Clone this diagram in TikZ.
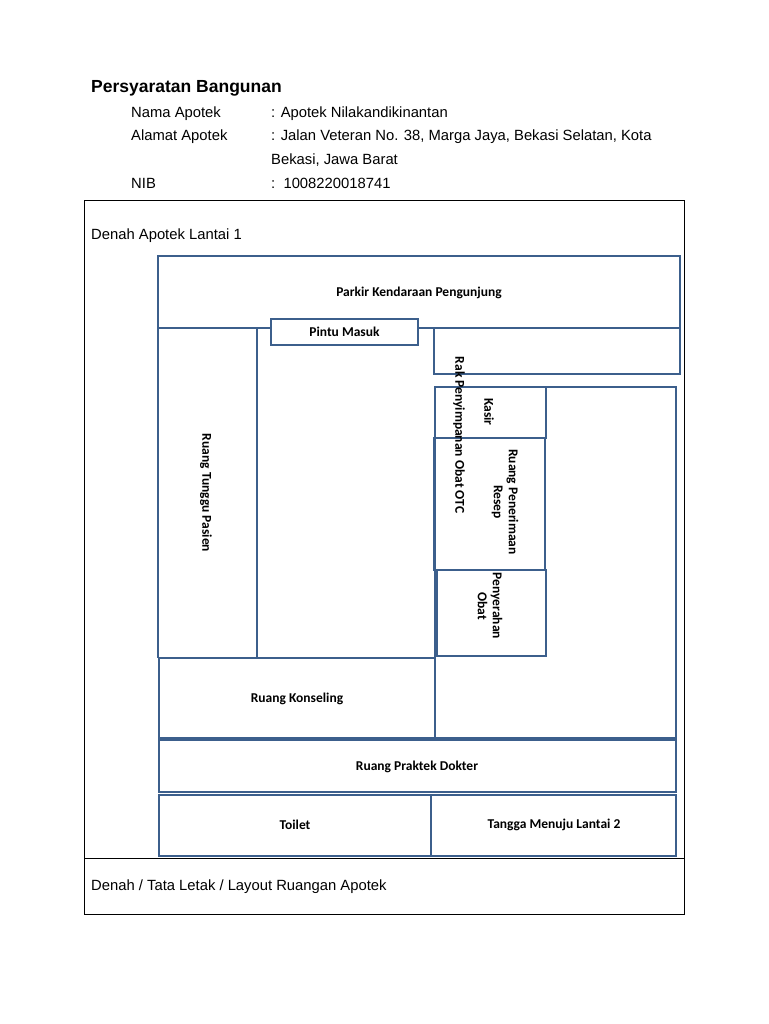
\documentclass[tikz,border=0pt]{standalone}
\usepackage{fontspec}
\setmainfont{Liberation Sans}
\newfontfamily\lab{Carlito}
\begin{document}
\begin{tikzpicture}[x=1pt,y=-1pt,
  wall/.style={draw=wallc,line width=1.6pt},
  lbl/.style={font=\lab\bfseries\fontsize{13.5}{15}\selectfont,align=center,text=black},
  hd/.style={font=\fontsize{14.8}{17}\selectfont,anchor=west,inner sep=0}]
\definecolor{wallc}{HTML}{3C5F8C}
\useasboundingbox[fill=white] (0,0) rectangle (768,1024);
\node[hd,font=\bfseries\fontsize{17.5}{20}\selectfont] (t) at (91,88) {Persyaratan Bangunan};
\node[hd] (l1) at (131,114) {Nama Apotek};
\node[hd] (v1) at (271,114) {: Apotek Nilakandikinantan};
\node[hd] (l2) at (131,137) {Alamat Apotek};
\node[hd] (v2) at (271,137) {: Jalan Veteran No. 38, Marga Jaya, Bekasi Selatan, Kota};
\node[hd] (v2b) at (271,160) {Bekasi, Jawa Barat};
\node[hd] (l3) at (131,183) {NIB};
\node[hd] (v3) at (271,183) {:\ \ 1008220018741};
\draw[black,line width=0.6pt] (84,200) rectangle (684,914);
\draw[black,line width=0.6pt] (84,858) -- (684,858);
\node[hd] (d1) at (91,236) {Denah Apotek Lantai 1};
\node[hd] (d2) at (91,887) {Denah / Tata Letak / Layout Ruangan Apotek};
% walls
\draw[wall] (158,256) rectangle (680,328);
\draw[wall] (158,328) -- (158,658);
\draw[wall] (257,328) -- (257,658);
\draw[wall] (434,328) -- (434,374) -- (680,374) -- (680,328);
\draw[wall] (435,387) rectangle (676,738);
\draw[wall] (435,387) rectangle (546,438);
\draw[wall] (434,438) rectangle (545,570);
\draw[wall] (437,570) rectangle (546,656);
\draw[wall] (159,658) rectangle (435,738);
\draw[wall] (159,740) rectangle (676,792);
\draw[wall] (159,795) rectangle (431,856);
\draw[wall] (431,795) rectangle (676,856);
\node[draw=wallc,line width=2pt,fill=white,minimum width=147pt,minimum height=26pt,lbl] (pm) at (344.5,332) {Pintu Masuk};
% labels
\node[lbl] (pk) at (419,293) {Parkir Kendaraan Pengunjung};
\node[lbl,rotate=-90] (rt) at (206,493) {Ruang Tunggu Pasien};
\node[lbl,rotate=-90] (rak) at (459,435) {Rak Penyimpanan Obat OTC};
\node[lbl,rotate=-90] (ks) at (489,412) {Kasir};
\node[lbl,rotate=-90] (rp) at (505,502) {Ruang Penerimaan\\Resep};
\node[lbl,rotate=-90] (po) at (490,606) {Penyerahan\\Obat};
\node[lbl] (rk) at (297,699) {Ruang Konseling};
\node[lbl] (rd) at (417,767) {Ruang Praktek Dokter};
\node[lbl] (tl) at (295,825) {Toilet};
\node[lbl] (tg) at (554,825) {Tangga Menuju Lantai 2};
\end{tikzpicture}
\end{document}
